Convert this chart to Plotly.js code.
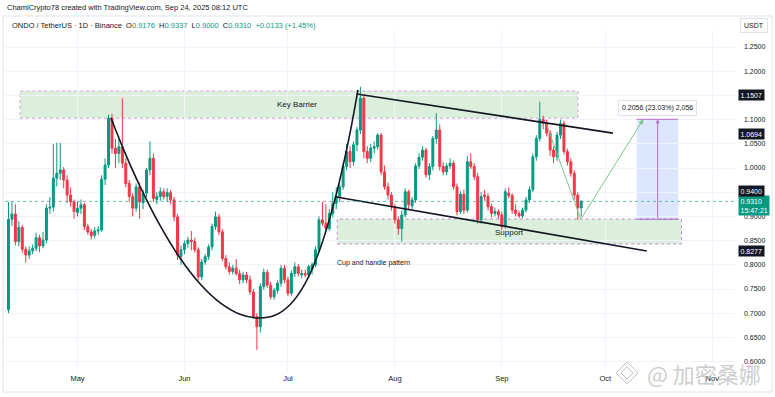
<!DOCTYPE html>
<html><head><meta charset="utf-8">
<script src="https://cdn.plot.ly/plotly-3.0.1.min.js"></script>
<style>html,body{margin:0;padding:0;background:#fff;}#chart{width:775px;height:397px;}</style>
</head><body><div id="chart"></div>
<script>
// ---- data (daily candles, ONDO/USDT, from startDate) ----
const startDate = '2025-04-11';
const open = [
 0.707,0.894,0.905,0.848,0.877,0.832,0.820,0.829,0.834,0.856,0.839,0.851,0.917,0.919,0.979,0.989,0.996,0.975,0.944,0.930,
 0.908,0.917,0.924,0.879,0.868,0.861,0.870,0.872,0.977,1.006,1.103,1.041,1.030,1.044,1.010,0.968,0.941,0.917,0.961,0.928,0.948,0.996,1.020,0.935,0.941,0.951,0.941,0.949,0.934,0.899,0.817,
 0.831,0.844,0.851,0.848,0.831,0.775,0.806,0.817,0.837,0.879,0.899,0.868,0.813,0.796,0.786,0.793,0.782,0.769,0.779,0.769,0.744,0.693,0.672,0.755,0.784,0.758,0.734,0.747,0.762,0.793,
 0.769,0.741,0.782,0.796,0.779,0.782,0.779,0.790,0.800,0.831,0.893,0.886,0.875,0.906,0.927,0.941,0.961,1.003,1.034,1.013,1.048,1.0785,1.144,1.034,1.020,1.041,1.044,1.068,0.992,0.961,0.944,
 0.920,0.893,0.875,0.903,0.951,0.922,0.934,1.004,1.022,1.037,0.986,1.003,1.061,1.0785,1.003,0.992,1.004,1.010,0.961,0.910,0.946,0.913,1.013,1.003,0.982,0.893,0.944,0.941,0.920,0.906,0.910,
 0.903,0.879,0.948,0.943,0.913,0.906,0.901,0.913,0.934,0.955,1.023,1.061,1.100,1.092,1.072,1.037,1.023,1.068,1.092,1.034,1.013,0.989,0.944,0.9176];
const high = [
 0.930,0.930,0.925,0.890,0.882,0.838,0.838,0.842,0.866,0.862,0.868,0.925,0.940,1.050,1.052,1.052,1.002,0.985,0.960,0.935,
 0.930,0.935,0.928,0.885,0.874,0.878,0.880,0.985,1.020,1.110,1.112,1.060,1.060,1.144,1.020,0.975,0.948,0.968,0.970,0.955,1.000,1.055,1.030,0.950,0.960,0.958,0.958,0.955,0.940,0.905,0.840,
 0.850,0.858,0.870,0.856,0.836,0.812,0.822,0.842,0.885,0.910,0.905,0.874,0.820,0.805,0.800,0.812,0.790,0.786,0.785,0.778,0.750,0.700,0.762,0.792,0.790,0.765,0.752,0.768,0.800,0.800,
 0.775,0.788,0.805,0.802,0.790,0.790,0.800,0.805,0.838,0.900,0.930,0.925,0.915,0.950,0.960,0.968,1.010,1.050,1.045,1.055,1.085,1.168,1.150,1.045,1.050,1.055,1.072,1.072,1.005,0.970,0.950,
 0.925,0.900,0.912,0.958,0.955,0.940,1.010,1.030,1.045,1.042,1.010,1.066,1.113,1.090,1.012,1.010,1.020,1.015,0.968,0.952,0.955,1.025,1.030,1.010,0.990,0.950,0.955,0.948,0.926,0.918,0.915,
 0.910,0.958,0.960,0.948,0.925,0.912,0.918,0.940,0.962,1.030,1.068,1.137,1.108,1.100,1.078,1.045,1.075,1.100,1.098,1.040,1.020,0.995,0.950,0.9337];
const low = [
 0.700,0.880,0.840,0.838,0.825,0.805,0.812,0.822,0.828,0.826,0.834,0.845,0.905,0.910,0.962,0.975,0.958,0.928,0.920,0.895,
 0.900,0.905,0.872,0.862,0.852,0.855,0.862,0.868,0.965,1.000,1.030,1.000,1.010,1.000,0.960,0.930,0.900,0.910,0.895,0.915,0.940,0.985,0.930,0.925,0.932,0.935,0.930,0.925,0.890,0.810,0.800,
 0.822,0.835,0.830,0.825,0.768,0.768,0.800,0.810,0.830,0.872,0.862,0.808,0.790,0.780,0.780,0.778,0.760,0.762,0.762,0.738,0.688,0.624,0.660,0.748,0.752,0.728,0.728,0.740,0.755,0.762,
 0.735,0.736,0.775,0.776,0.772,0.774,0.772,0.780,0.795,0.825,0.880,0.868,0.870,0.898,0.915,0.930,0.955,0.995,1.000,1.005,1.035,1.070,1.020,1.010,1.012,1.030,1.038,0.985,0.955,0.935,0.912,
 0.885,0.862,0.848,0.898,0.915,0.915,0.928,0.998,1.015,0.980,0.975,0.995,1.050,0.995,0.985,0.985,0.998,0.955,0.902,0.905,0.905,0.908,0.998,0.975,0.885,0.885,0.932,0.912,0.898,0.900,0.895,
 0.872,0.875,0.938,0.905,0.900,0.896,0.896,0.908,0.928,0.950,1.015,1.055,1.080,1.065,1.025,1.010,1.015,1.060,1.028,1.005,0.982,0.935,0.893,0.9000];
const close = [
 0.894,0.905,0.848,0.877,0.832,0.820,0.829,0.834,0.856,0.839,0.851,0.917,0.919,0.979,0.989,0.996,0.975,0.944,0.930,0.910,
 0.917,0.924,0.879,0.868,0.860,0.870,0.872,0.977,1.006,1.103,1.041,1.030,1.044,1.010,0.968,0.941,0.917,0.961,0.930,0.948,0.996,1.020,0.937,0.941,0.951,0.941,0.949,0.934,0.899,0.820,0.831,
 0.844,0.851,0.848,0.831,0.775,0.806,0.817,0.837,0.879,0.899,0.868,0.813,0.796,0.786,0.793,0.782,0.769,0.779,0.769,0.744,0.693,0.672,0.755,0.784,0.758,0.734,0.747,0.762,0.793,0.769,
 0.741,0.782,0.796,0.782,0.782,0.779,0.796,0.800,0.831,0.893,0.886,0.875,0.906,0.927,0.941,0.961,1.003,1.034,1.013,1.048,1.0785,1.144,1.034,1.020,1.041,1.044,1.068,0.992,0.961,0.944,0.920,
 0.893,0.875,0.903,0.951,0.924,0.934,1.004,1.022,1.037,0.986,1.003,1.061,1.0785,1.003,0.992,1.004,1.010,0.961,0.910,0.946,0.913,1.013,1.003,0.982,0.893,0.941,0.941,0.920,0.906,0.910,0.903,
 0.879,0.951,0.943,0.913,0.906,0.901,0.913,0.934,0.955,1.023,1.061,1.100,1.092,1.072,1.037,1.023,1.068,1.092,1.034,1.013,0.989,0.944,0.9177,0.9310];

// price-axis tick labels (1.15 and 0.95 sit under price tags)
const yTickVals = [0.60,0.65,0.70,0.75,0.80,0.85,0.90,0.95,1.00,1.05,1.10,1.15,1.20,1.25];
const yTickText = ['0.6000','0.6500','0.7000','0.7500','0.8000','0.8500','0.9000','','1.0000','1.0500','1.1000','','1.2000','1.2500'];

// drawing-tool anchors (date, price)
const cupDates = ['2025-05-10 17:00','2025-05-14 18:00','2025-05-19 03:00','2025-05-24 22:00','2025-05-30 17:00','2025-06-05 12:00','2025-06-11 07:00','2025-06-17 02:00','2025-06-22 08:00','2025-06-27 06:00','2025-07-01 14:00','2025-07-05 23:00','2025-07-10 07:00','2025-07-14 15:00','2025-07-17 13:00','2025-07-19 14:00','2025-07-21 07:00'];
const cupPrices = [1.1033,1.0318,0.9622,0.8814,0.8140,0.7607,0.7217,0.6977,0.6901,0.6957,0.7174,0.7612,0.8326,0.9351,1.0227,1.0938,1.1612];
const resistDates = ['2025-07-20 22:00','2025-10-03 05:00'];
const resistPrices = [1.153, 1.072];
const supportLineDates = ['2025-07-14 15:00','2025-10-13 00:00'];
const supportLinePrices = [0.9407, 0.8285];
const pathDates = ['2025-09-14 00:00','2025-09-23 21:00','2025-10-12 00:00'];
const pathPrices = [1.0888, 0.894, 1.1006];
const barrierZone = {x0:'2025-04-14 08:00', x1:'2025-09-23 02:00', y0:1.103, y1:1.159};
const supportZone = {x0:'2025-07-15 07:00', x1:'2025-10-23 02:00', y0:0.843, y1:0.8946};
const measureBox = {x0:'2025-10-10 02:00', x1:'2025-10-22 03:00', xm:'2025-10-16 04:00', y0:0.894, y1:1.1006};
const priceTags = [{v:'1.1507', y:1.1507},{v:'1.0694', y:1.0694},{v:'0.9400', y:0.9525},{v:'0.8277', y:0.8277}];
const lastPrice = 0.931;
const headerTitle = 'ChamiCrypto78 created with TradingView.com, Sep 24, 2025 08:12 UTC';
const symbolText = 'ONDO / TetherUS · 1D · Binance';
const ohlcText = {O:'0.9176', H:'0.9337', L:'0.9000', C:'0.9310', chg:'+0.0133 (+1.45%)'};

function dayStr(base, n){ const d = new Date(base + 'T00:00:00Z'); d.setUTCDate(d.getUTCDate() + n); return d.toISOString().slice(0,10); }
const dates = close.map((_, i) => dayStr(startDate, i));

const GREEN = '#089981', RED = '#f23645', INK = '#131722', FONT = 'Liberation Sans, Arial, sans-serif';
// plot area pixels: x 5..735, y 30..372
const px = x => (x - 5) / 730, py = y => (372 - y) / 342;

const traces = [
  {type:'candlestick', x:dates, open:open, high:high, low:low, close:close,
   increasing:{line:{color:GREEN, width:1}, fillcolor:GREEN},
   decreasing:{line:{color:RED, width:1}, fillcolor:RED},
   whiskerwidth:0, hoverinfo:'skip', showlegend:false},
  {type:'scatter', mode:'lines', x:cupDates, y:cupPrices, line:{color:INK, width:1.6, shape:'spline', smoothing:1}, hoverinfo:'skip', showlegend:false},
  {type:'scatter', mode:'lines', x:resistDates, y:resistPrices, line:{color:INK, width:1.6}, hoverinfo:'skip', showlegend:false},
  {type:'scatter', mode:'lines', x:supportLineDates, y:supportLinePrices, line:{color:INK, width:1.6}, hoverinfo:'skip', showlegend:false},
  {type:'scatter', mode:'lines', x:pathDates.slice(0,2), y:pathPrices.slice(0,2), line:{color:'#7cc48a', width:1}, hoverinfo:'skip', showlegend:false}
];

const shapes = [
  {type:'rect', xref:'x', yref:'y', x0:barrierZone.x0, x1:barrierZone.x1, y0:barrierZone.y0, y1:barrierZone.y1, fillcolor:'rgba(76,175,80,0.2)', line:{color:'#d6a3e0', width:1, dash:'dot'}, layer:'below'},
  {type:'rect', xref:'x', yref:'y', x0:supportZone.x0, x1:supportZone.x1, y0:supportZone.y0, y1:supportZone.y1, fillcolor:'rgba(76,175,80,0.2)', line:{color:'#c38bd0', width:1, dash:'dot'}, layer:'below'},
  {type:'rect', xref:'x', yref:'y', x0:measureBox.x0, x1:measureBox.x1, y0:measureBox.y0, y1:measureBox.y1, fillcolor:'rgba(41,98,255,0.16)', line:{width:0}, layer:'below'},
  {type:'line', xref:'x', yref:'y', x0:measureBox.x0, x1:measureBox.x1, y0:measureBox.y1, y1:measureBox.y1, line:{color:'#b36bc6', width:1}},
  {type:'line', xref:'x', yref:'y', x0:measureBox.x0, x1:measureBox.x1, y0:measureBox.y0, y1:measureBox.y0, line:{color:'#b36bc6', width:1}},
  {type:'line', xref:'paper', yref:'y', x0:0, x1:1, y0:lastPrice, y1:lastPrice, line:{color:'rgba(8,153,129,0.6)', width:1, dash:'dot'}},
  {type:'rect', xref:'paper', yref:'paper', x0:px(3), x1:px(772), y0:py(392), y1:py(16), line:{color:'#e0e3eb', width:1}, fillcolor:'rgba(0,0,0,0)'},
  {type:'path', xref:'paper', yref:'paper', path:`M ${px(627)} ${py(362)} L ${px(638)} ${py(373)} L ${px(627)} ${py(384)} L ${px(616)} ${py(373)} Z M ${px(627)} ${py(367)} L ${px(633)} ${py(373)} L ${px(627)} ${py(379)} L ${px(621)} ${py(373)} Z`, line:{color:'rgba(170,170,170,0.7)', width:1}, fillcolor:'rgba(0,0,0,0)'}
];

const annotations = [
  {xref:'paper', yref:'paper', x:px(5), y:py(8), xanchor:'left', yanchor:'middle', showarrow:false, text:headerTitle, font:{family:FONT, size:7.5, color:INK}},
  {xref:'paper', yref:'paper', x:px(10), y:py(25), xanchor:'left', yanchor:'middle', showarrow:false,
   text: symbolText + '\u00a0 O<span style="color:'+GREEN+'">'+ohlcText.O+'</span>\u00a0 H<span style="color:'+GREEN+'">'+ohlcText.H+'</span>\u00a0 L<span style="color:'+GREEN+'">'+ohlcText.L+'</span>\u00a0 C<span style="color:'+GREEN+'">'+ohlcText.C+'</span>\u00a0 <span style="color:'+GREEN+'">'+ohlcText.chg+'</span>',
   font:{family:FONT, size:7.5, color:INK}},
  {xref:'paper', yref:'paper', x:px(754), y:py(25), xanchor:'center', yanchor:'middle', showarrow:false, text:'USDT', font:{family:FONT, size:7, color:INK}, bordercolor:'#e0e3eb', borderwidth:1, borderpad:3, bgcolor:'#fff'},
  {xref:'x', yref:'y', x:'2025-07-03 15:00', y:1.132, showarrow:false, text:'Key Barrier', font:{family:FONT, size:8, color:INK}},
  {xref:'x', yref:'y', x:'2025-09-03 02:00', y:0.8667, showarrow:false, text:'Support', font:{family:FONT, size:8, color:INK}},
  {xref:'x', yref:'y', x:'2025-07-14 15:00', y:0.8037, xanchor:'left', showarrow:false, text:'Cup and handle pattern', font:{family:FONT, size:7, color:INK}},
  {xref:'x', yref:'y', x:'2025-10-16 00:00', y:1.125, showarrow:false, text:'0.2056 (23.03%) 2,056', font:{family:FONT, size:7, color:INK}, bgcolor:'#fff', bordercolor:'#e0e3eb', borderwidth:1, borderpad:3},
  {xref:'x', yref:'y', axref:'x', ayref:'y', x:pathDates[2], y:pathPrices[2], ax:pathDates[1], ay:pathPrices[1], showarrow:true, arrowhead:2, arrowsize:1, arrowwidth:1, arrowcolor:'#7cc48a', text:''},
  {xref:'x', yref:'y', axref:'x', ayref:'y', x:measureBox.xm, y:measureBox.y1, ax:measureBox.xm, ay:measureBox.y0, showarrow:true, arrowhead:2, arrowsize:0.8, arrowwidth:1, arrowcolor:'#b36bc6', text:''},
  {xref:'paper', yref:'y', x:1, y:lastPrice - 0.0085, xanchor:'left', yanchor:'middle', xshift:3, showarrow:false, align:'left', text:'0.9310<br>15:47:21', font:{family:FONT, size:7, color:'#fff'}, bgcolor:GREEN, borderpad:1.5},
  {xref:'paper', yref:'paper', x:px(645), y:py(373), xanchor:'left', yanchor:'middle', showarrow:false, text:'@ 加密桑娜', font:{family:'Noto Sans CJK SC', size:22, color:'rgba(175,175,175,0.65)'}}
];
priceTags.forEach(t => annotations.push({xref:'paper', yref:'y', x:1, y:t.y, xanchor:'left', yanchor:'middle', xshift:3, showarrow:false, text:t.v, font:{family:FONT, size:7, color:'#fff'}, bgcolor:INK, borderpad:1.5}));

const layout = {
  width:775, height:397, margin:{l:5, r:40, t:30, b:25}, paper_bgcolor:'#fff', plot_bgcolor:'#fff',
  showlegend:false, dragmode:false, hovermode:false, boxgap:0.2,
  xaxis:{type:'date', range:['2025-04-09 23:45','2025-11-07 14:00'], dtick:'M1', tick0:'2025-05-01', tickformat:'%b',
         showgrid:true, gridcolor:'#f0f3fa', zeroline:false, showline:false, ticks:'', tickfont:{family:FONT, size:7.5, color:INK},
         rangeslider:{visible:false}, fixedrange:true},
  yaxis:{side:'right', range:[0.57851, 1.28512], tickmode:'array', tickvals:yTickVals, ticktext:yTickText, showgrid:true, gridcolor:'#f0f3fa',
         zeroline:false, showline:false, ticks:'', ticklabelstandoff:8, tickfont:{family:FONT, size:7, color:INK}, fixedrange:true},
  shapes:shapes, annotations:annotations
};
Plotly.newPlot('chart', traces, layout, {displayModeBar:false, staticPlot:true});
</script></body></html>
